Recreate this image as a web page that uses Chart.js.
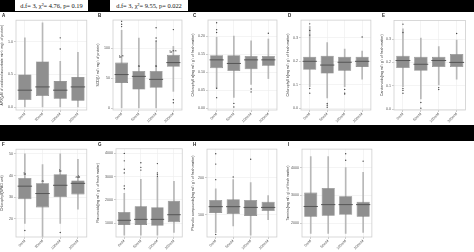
<!DOCTYPE html>
<html><head><meta charset="utf-8">
<script src="https://cdn.jsdelivr.net/npm/chart.js@4"></script>
<style>
body{margin:0;background:#fff;width:474px;height:252px;position:relative;overflow:hidden;font-family:'Liberation Sans',Arial,sans-serif}
.bar{position:absolute;left:0;width:474px;background:#000}
.stat{position:absolute;top:0;height:11px;background:#fff;font-family:'Liberation Serif',serif;font-size:6.4px;line-height:11px;text-align:center;color:#111;white-space:nowrap}
canvas{position:absolute}
.lt{position:absolute;font-size:4.5px;font-weight:bold;color:#222;line-height:5px}
</style></head><body>
<div class="bar" style="top:0;height:12px"></div>
<div class="stat" style="left:15px;width:73px">d.f= 3, χ²= 4.76, p= 0.19</div>
<div class="stat" style="left:110px;width:78px">d.f= 3, χ²= 9.55, p= 0.022</div>
<div class="bar" style="top:125px;height:16px"></div>
<script>
const categories = ['0mM','50mM','100mM','200mM'];

// A: APX
const A_lo=[0.0,0.0,0.0,0.0], A_q1=[0.11,0.17,0.13,0.10], A_med=[0.26,0.31,0.26,0.31], A_q3=[0.50,0.70,0.40,0.46], A_hi=[1.06,1.29,0.70,0.84];
const A_out=[[],[],[1.06,0.89],[]];
const A_ticks=[0.0,0.5,1.0];
// B: SOD
const B_lo=[0,0,0,28], B_q1=[42,31,34,69], B_med=[56,53,48,76], B_q3=[76,62,62,89], B_hi=[130,117,111,103];
const B_out=[[145,140,136],[],[134,117,112],[131,14,9]];
const B_ticks=[0,50,100];
const B_letters=['b*','a','a','b**'], B_letterY=[86,70,70,95];
// C: Chlorophyll a
const C_lo=[0.055,0.030,0.066,0.082], C_q1=[0.111,0.103,0.108,0.118], C_med=[0.134,0.124,0.134,0.134], C_q3=[0.147,0.147,0.145,0.145], C_hi=[0.197,0.200,0.187,0.192];
const C_out=[[0.237,0.218,0.210,0.055,0.029],[0.013,0.003],[0.053,0.045],[0.208]];
const C_ticks=[0.00,0.05,0.10,0.15,0.20];
// D: Chlorophyll b
const D_lo=[0.092,0.044,0.092,0.124], D_q1=[0.164,0.148,0.160,0.176], D_med=[0.200,0.184,0.196,0.200], D_q3=[0.220,0.224,0.220,0.220], D_hi=[0.350,0.280,0.252,0.244];
const D_out=[[0.360,0.332,0.312,0.084,0.064],[0.020,0.012,0.004],[0.080,0.064,0.060],[0.304]];
const D_ticks=[0.0,0.1,0.2,0.3];
// E: Carotenoids
const E_lo=[0.096,0.044,0.104,0.128], E_q1=[0.176,0.164,0.180,0.180], E_med=[0.208,0.192,0.208,0.200], E_q3=[0.228,0.224,0.224,0.236], E_hi=[0.344,0.304,0.268,0.296];
const E_out=[[0.364,0.328,0.088,0.080,0.068],[0.028,0.004],[0.092,0.084],[0.324]];
const E_ticks=[0.0,0.1,0.2,0.3];
// F: Chlorophyll SPAD
const F_lo=[18,11.7,18,24.5], F_q1=[29.1,25.3,30.0,31.3], F_med=[35.1,31.7,35.5,36.4], F_q3=[38.9,36.4,40.6,37.7], F_hi=[50,45,50,47.4];
const F_out=[[14.7],[],[13.8],[]];
const F_ticks=[20,30,40,50];
const F_letters=['b','a','b','ab'], F_letterY=[41,37.7,42.3,39.4];
// G: Flavonoids
const G_lo=[480,480,480,600], G_q1=[920,920,880,1040], G_med=[1120,1160,1160,1360], G_q3=[1480,1720,1680,1960], G_hi=[2280,2880,2960,2800];
const G_out=[[4000,3680,3320,3160,2600,2480],[3600,3400,3280],[3560,3160,3080,3000],[]];
const G_ticks=[1000,2000,3000,4000];
// H: Phenolic compounds
const H_lo=[52,70,45,87], H_q1=[105,102,97,110], H_med=[122,122,120,120], H_q3=[140,142,140,135], H_hi=[170,195,187,152];
const H_out=[[265,237,195,47],[202],[250],[]];
const H_ticks=[100,200];
// I: Tannins
const I_lo=[1630,1630,1630,1667], I_q1=[2233,2267,2300,2233], I_med=[2600,2667,2667,2667], I_q3=[3100,3267,2967,2767], I_hi=[4400,4400,4000,3833];
const I_out=[[],[],[4500,4267],[4233]];
const I_ticks=[2000,3000,4000];

const frame={id:'frame',afterDraw(c){const a=c.chartArea,x=c.ctx;x.save();x.strokeStyle='#cfcfcf';x.lineWidth=0.8;x.strokeRect(a.left,a.top,a.right-a.left,a.bottom-a.top);x.restore();}};
const annot={id:'annot',afterDatasetsDraw(c,args,o){if(!o.letters)return;const x=c.ctx,sx=c.scales.x,sy=c.scales.y;x.save();x.font='5px "Liberation Serif", serif';x.fillStyle='#222';x.textAlign='center';x.textBaseline='middle';o.letters.forEach((t,i)=>x.fillText(t,sx.getPixelForValue(i),sy.getPixelForValue(o.ys[i])));x.restore();}};

function panel(p,d){
  const cv=document.createElement('canvas');cv.width=p.w;cv.height=p.h;cv.style.left=p.l+'px';cv.style.top=p.t+'px';document.body.appendChild(cv);
  const lt=document.createElement('div');lt.className='lt';lt.textContent=p.letter;lt.style.left=(p.l+2)+'px';lt.style.top=(p.t+1)+'px';document.body.appendChild(lt);
  const outPts=[];d.out.forEach((arr,i)=>arr.forEach(v=>outPts.push({x:categories[i],y:v})));
  const catW=(p.w-p.yw-p.pr)/4;
  new Chart(cv,{type:'bar',data:{labels:categories,datasets:[
    {data:d.lo.map((v,i)=>[v,d.hi[i]]),backgroundColor:'#b8b8b8',barThickness:1,grouped:false,order:4},
    {data:d.q1.map((v,i)=>[v,d.q3[i]]),backgroundColor:'#8f8f8f',borderColor:'#7c7c7c',borderWidth:0.6,borderSkipped:false,barPercentage:0.75,categoryPercentage:1,grouped:false,order:3},
    {type:'line',data:d.med,showLine:false,pointStyle:'line',pointRadius:catW*0.375,pointBorderColor:'#565656',pointBorderWidth:1,order:2},
    {type:'line',data:outPts,showLine:false,pointStyle:'circle',pointRadius:0.7,pointBackgroundColor:'#444',pointBorderColor:'#444',pointBorderWidth:0,order:1}
  ]},options:{responsive:false,animation:false,events:[],
    plugins:{legend:{display:false},tooltip:{enabled:false},annot:{letters:d.letters,ys:d.letterY}},
    layout:{padding:{top:p.pt,right:p.pr,left:0,bottom:0}},
    scales:{
      x:{grid:{offset:false,color:'#ececec',lineWidth:0.6,tickLength:2,tickColor:'#aaa'},border:{display:false},
         ticks:{font:{size:3.6},color:'#555',minRotation:45,maxRotation:45,padding:0,autoSkip:false},afterFit:s=>{s.height=p.xh;}},
      y:{min:d.min,max:d.max,afterBuildTicks:s=>{s.ticks=d.ticks.map(v=>({value:v}));},
         ticks:{font:{size:3.6},color:'#555',padding:1,callback:v=>Number(v).toFixed(d.dec)},
         grid:{color:'#ececec',lineWidth:0.6,tickLength:2,tickColor:'#aaa'},border:{display:false},
         title:{display:true,text:d.title,font:{size:3.5},color:'#333',padding:0},afterFit:s=>{s.width=p.yw;}}
    }},plugins:[frame,annot]});
}
const top1={t:12,h:112,pt:2,xh:14}, bot1={t:141,h:111,pt:2,xh:15};
panel({...top1,letter:'A',l:0,w:95,yw:16,pr:2},{lo:A_lo,q1:A_q1,med:A_med,q3:A_q3,hi:A_hi,out:A_out,ticks:A_ticks,dec:1,min:-0.043,max:1.33,title:'APX(μM of oxidized ascorbate min⁻¹ mg⁻¹ of protein)'});
panel({...top1,letter:'B',l:96,w:94,yw:17,pr:2},{lo:B_lo,q1:B_q1,med:B_med,q3:B_q3,hi:B_hi,out:B_out,ticks:B_ticks,dec:0,min:-3.1,max:147,title:'SOD(U ml⁻¹ mg⁻¹ of protein)',letters:B_letters,letterY:B_letterY});
panel({...top1,letter:'C',l:191,w:94,yw:17,pr:2},{lo:C_lo,q1:C_q1,med:C_med,q3:C_q3,hi:C_hi,out:C_out,ticks:C_ticks,dec:2,min:-0.0053,max:0.2447,title:'Chlorophyll a(mg ml⁻¹ g⁻¹ of fresh matter)'});
panel({...top1,letter:'D',l:286,w:93,yw:15,pr:2},{lo:D_lo,q1:D_q1,med:D_med,q3:D_q3,hi:D_hi,out:D_out,ticks:D_ticks,dec:1,min:-0.008,max:0.376,title:'Chlorophyll b(mg ml⁻¹ g⁻¹ of fresh matter)'});
panel({...top1,letter:'E',l:380,w:94,yw:14,pr:1},{lo:E_lo,q1:E_q1,med:E_med,q3:E_q3,hi:E_hi,out:E_out,ticks:E_ticks,dec:1,min:-0.004,max:0.38,title:'Carotenoids(mg ml⁻¹ g⁻¹ of fresh matter)'});
panel({...bot1,letter:'F',l:0,w:95,yw:16,pr:2},{lo:F_lo,q1:F_q1,med:F_med,q3:F_q3,hi:F_hi,out:F_out,ticks:F_ticks,dec:0,min:11.7,max:52.1,title:'Chlorophyll(SPAD unit)',letters:F_letters,letterY:F_letterY});
panel({...bot1,letter:'G',l:96,w:94,yw:20,pr:2},{lo:G_lo,q1:G_q1,med:G_med,q3:G_q3,hi:G_hi,out:G_out,ticks:G_ticks,dec:0,min:400,max:4200,title:'Flavonoids(mg ml⁻¹ g⁻¹ of fresh matter)'});
panel({...bot1,letter:'H',l:191,w:94,yw:16,pr:2},{lo:H_lo,q1:H_q1,med:H_med,q3:H_q3,hi:H_hi,out:H_out,ticks:H_ticks,dec:0,min:40,max:277.5,title:'Phenolic compounds(mg ml⁻¹ g⁻¹ of fresh matter)'});
panel({...bot1,letter:'I',l:286,w:94,yw:16,pr:2},{lo:I_lo,q1:I_q1,med:I_med,q3:I_q3,hi:I_hi,out:I_out,ticks:I_ticks,dec:0,min:1500,max:4667,title:'Tannins(mg ml⁻¹ g⁻¹ of fresh matter)'});
</script>
</body></html>
